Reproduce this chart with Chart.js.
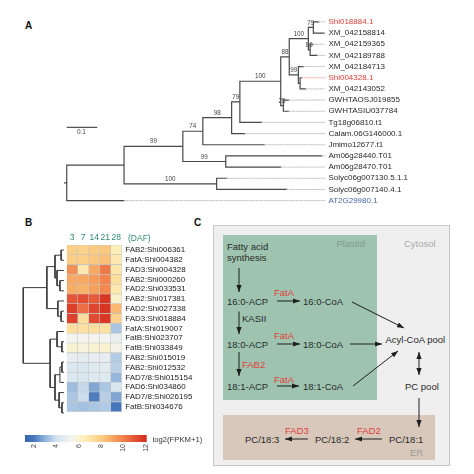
<!DOCTYPE html>
<html>
<head>
<meta charset="utf-8">
<script src="https://cdn.jsdelivr.net/npm/chart.js@4.4.1/dist/chart.umd.min.js"></script>
<style>
  html, body { margin: 0; padding: 0; background: #fff; }
  #fig { position: relative; width: 474px; height: 474px; overflow: hidden;
         font-family: "Liberation Sans", Arial, sans-serif; color: #222; }
  .abs { position: absolute; }
  .t { position: absolute; white-space: nowrap; font-size: 9.5px; line-height: 11px; height: 11px; color: #2a2a2a; }
  .red { color: #e0403a; }
  .panel { position: absolute; font-weight: bold; font-size: 10px; line-height: 12px; color: #111; }
</style>
</head>
<body>
<div id="fig">
  <!-- panel letters -->
  <div class="panel" style="left:25px;top:20px">A</div>
  <div class="panel" style="left:25px;top:217px">B</div>
  <div class="panel" style="left:194px;top:217px">C</div>

  <!-- A: tree -->
  <canvas id="treeCanvas" class="abs" width="474" height="214" style="left:0;top:0"></canvas>

  <!-- B: heatmap, dendrogram, colour bar -->
  <canvas id="dendroCanvas" class="abs" width="46" height="173" style="left:20px;top:245px"></canvas>
  <canvas id="heatCanvas" class="abs" width="150" height="192" style="left:60px;top:228px"></canvas>
  <div class="t" style="left:128px;top:232.5px;font-size:8.5px;color:#2e8b6e">(DAF)</div>
  <canvas id="cbarCanvas" class="abs" width="200" height="32" style="left:20px;top:428px"></canvas>
  <div class="t" style="left:152.5px;top:433.5px;font-size:7.7px;color:#333">log2(FPKM+1)</div>

  <!-- C: pathway diagram -->
  <div class="abs" style="left:213px;top:225px;width:237px;height:241px;background:#efefef;border:1px solid #c8c8c8;box-sizing:border-box"></div>
  <div class="abs" style="left:222.5px;top:235px;width:154px;height:165px;background:#9ec4b0"></div>
  <div class="abs" style="left:223px;top:415px;width:212px;height:45px;background:#d7c8bb"></div>
  <svg class="abs" width="474" height="474" style="left:0;top:0">
    <defs>
      <marker id="ah" viewBox="0 0 8 6" refX="8" refY="3" markerWidth="7" markerHeight="5.2"
              markerUnits="userSpaceOnUse" orient="auto-start-reverse">
        <path d="M0,0 L8,3 L0,6 z" fill="#1e1e1e"/>
      </marker>
    </defs>
    <g stroke="#1e1e1e" stroke-width="1" fill="none">
      <line x1="239" y1="268" x2="239" y2="292" marker-end="url(#ah)"/>
      <line x1="277" y1="301" x2="300" y2="301" marker-end="url(#ah)"/>
      <line x1="352" y1="302" x2="404" y2="328" marker-end="url(#ah)"/>
      <line x1="239" y1="311.5" x2="239" y2="334" marker-end="url(#ah)"/>
      <line x1="277" y1="344" x2="300" y2="344" marker-end="url(#ah)"/>
      <line x1="350" y1="344" x2="382" y2="344" marker-end="url(#ah)"/>
      <line x1="239" y1="352" x2="239" y2="376" marker-end="url(#ah)"/>
      <line x1="277" y1="386" x2="299" y2="386" marker-end="url(#ah)"/>
      <line x1="353" y1="386" x2="398" y2="351" marker-end="url(#ah)"/>
      <line x1="419" y1="352" x2="419" y2="375" marker-start="url(#ah)" marker-end="url(#ah)"/>
      <line x1="419" y1="398" x2="419" y2="427" marker-end="url(#ah)"/>
      <line x1="382" y1="439" x2="355" y2="439" marker-end="url(#ah)"/>
      <line x1="308" y1="439" x2="285" y2="439" marker-end="url(#ah)"/>
    </g>
  </svg>
  <div class="t" style="left:336.5px;top:237.5px;color:#7f9a8c">Plastid</div>
  <div class="t" style="left:404px;top:237.5px;color:#a9a9a9">Cytosol</div>
  <div class="t" style="left:227px;top:240.5px">Fatty acid</div>
  <div class="t" style="left:227px;top:252px">synthesis</div>
  <div class="t" style="left:227px;top:295.5px">16:0-ACP</div>
  <div class="t red" style="left:274px;top:287px">FatA</div>
  <div class="t" style="left:303px;top:295.5px">16:0-CoA</div>
  <div class="t" style="left:242px;top:313px">KASII</div>
  <div class="t" style="left:227px;top:338.5px">18:0-ACP</div>
  <div class="t red" style="left:274px;top:329.5px">FatA</div>
  <div class="t" style="left:303px;top:338.5px">18:0-CoA</div>
  <div class="t" style="left:385.5px;top:334px">Acyl-CoA pool</div>
  <div class="t red" style="left:242px;top:358.5px">FAB2</div>
  <div class="t" style="left:227px;top:380.5px">18:1-ACP</div>
  <div class="t red" style="left:274px;top:373.5px">FatA</div>
  <div class="t" style="left:303px;top:380.5px">18:1-CoA</div>
  <div class="t" style="left:405px;top:380.5px">PC pool</div>
  <div class="t" style="left:389px;top:434px">PC/18:1</div>
  <div class="t red" style="left:357px;top:424.5px">FAD2</div>
  <div class="t" style="left:315px;top:434px">PC/18:2</div>
  <div class="t red" style="left:285px;top:424.5px">FAD3</div>
  <div class="t" style="left:245px;top:434px">PC/18:3</div>
  <div class="t" style="left:410px;top:447px;color:#a09a94">ER</div>
</div>

<script>
// =================================================================================
// DATA
// =================================================================================

// --- Panel A: phylogenetic tree (branch depths in substitutions/site) ---
const treeLeaves = [
  'Shi018884.1', 'XM_042158814', 'XM_042159365', 'XM_042189788', 'XM_042184713',
  'Shi004328.1', 'XM_042143052', 'GWHTAOSJ019855', 'GWHTASIU037784', 'Tg18g06810.t1',
  'Calam.06G146000.1', 'Jmimo12677.t1', 'Am06g28440.T01', 'Am06g28470.T01',
  'Solyc06g007130.5.1.1', 'Solyc06g007140.4.1', 'AT2G29980.1'
];
const treeLeafParents = ['P', 'P', 'O', 'O', 'R', 'Q', 'Q', 'G', 'G', 'V', 'W', 'Z', 'Am', 'Am', 'So', 'So', 'root'];
const treeLeafDepths  = [0.857, 0.875, 0.838, 0.852, 0.805, 0.800, 0.812, 0.755, 0.755, 0.663,
                         0.606, 0.672, 0.867, 0.728, 0.544, 0.748, 0.195];

const treeNodeNames   = ['root', 'X', 'Y', 'So', 'Z', 'Am', 'W', 'V', 'U', 'G', 'T', 'S', 'R', 'P', 'O', 'Q'];
const treeNodeParents = [null, 'root', 'X', 'X', 'Y', 'Y', 'Z', 'W', 'V', 'U', 'U', 'T', 'T', 'S', 'S', 'R'];
const treeNodeDepths  = [0, 0.195, 0.395, 0.510, 0.463, 0.541, 0.561, 0.589, 0.728, 0.737, 0.757, 0.822, 0.788, 0.839, 0.828, 0.794];
const treeNodeSupport = ['', '', '99', '100', '74', '99', '98', '79', '100', '25', '88', '100', '99', '79', '86', ''];

const scaleBarLength = 0.1;

// --- Panel B: expression heatmap, log2(FPKM+1) ---
const heatGenes = [
  'FAB2:Shi006361', 'FatA:Shi004382', 'FAD3:Shi004328', 'FAB2:Shi000260', 'FAD2:Shi033531',
  'FAB2:Shi017381', 'FAD2:Shi027338', 'FAD3:Shi018884', 'FatA:Shi019007', 'FatB:Shi023707',
  'FatB:Shi033849', 'FAB2:Shi015019', 'FAB2:Shi012532', 'FAD7/8:Shi015154', 'FAD6:Shi034860',
  'FAD7/8:Shi026195', 'FatB:Shi034676'
];
const dafLabels = ['3', '7', '14', '21', '28'];
const heatDaf3  = [8.0, 8.0, 9.6, 9.0, 8.9, 11.0, 11.6, 11.5, 7.3, 5.3, 6.0, 4.8, 4.3, 4.3, 3.2, 3.4, 3.4];
const heatDaf7  = [7.9, 8.0, 6.8, 9.0, 8.8, 11.2, 10.4, 7.3, 7.2, 5.3, 5.8, 4.7, 4.3, 4.2, 3.8, 3.9, 3.3];
const heatDaf14 = [8.1, 8.2, 9.0, 9.3, 9.2, 10.9, 11.4, 11.3, 7.3, 5.4, 6.0, 4.8, 4.5, 4.4, 2.8, 2.1, 3.4];
const heatDaf21 = [8.2, 8.4, 10.2, 9.9, 9.8, 11.8, 11.9, 11.8, 7.2, 5.3, 6.0, 4.8, 4.6, 4.5, 3.4, 3.6, 3.5];
const heatDaf28 = [6.6, 6.8, 7.0, 7.3, 6.8, 6.2, 8.6, 7.8, 3.4, 4.9, 5.5, 3.5, 3.6, 3.1, 4.2, 2.8, 1.9];

// row dendrogram, hclust style: negative = row number, positive = earlier merge
const dendroLeft   = [-1, -4, -3, 1, -7, -6, 4, -10, -9, -12, -14, -16, -15, 11, 9, 7];
const dendroRight  = [-2, -5, 2, 3, -8, 5, 6, -11, 8, -13, 10, -17, 12, 13, 14, 15];
const dendroHeight = [0.07, 0.10, 0.17, 0.22, 0.07, 0.15, 0.42, 0.05, 0.17, 0.05, 0.10, 0.05, 0.12, 0.22, 0.34, 1.0];

// colour bar
const cbarRange = [1.2, 12.1];
const cbarTicks = [2, 4, 6, 8, 10, 12];

// =================================================================================
// APP
// =================================================================================
document.addEventListener('DOMContentLoaded', () => {
  const App = (() => {
    // --- config ---
    const config = {
      font: '"Liberation Sans", Arial, sans-serif',
      treeGuideEnd: 0.88,
      branchColor: '#484848',
      guideColor: '#b0b0b0',
      leafRed: '#e0403a',
      leafBlue: '#4a68a8',
      cmapValues: [1.2, 2, 3, 4, 5.3, 6.5, 8, 9, 10, 11, 12.1],
      cmapColors: ['#3567b0', '#4878bc', '#8fb2d9', '#d3e3f0', '#f3f4f0', '#fdf0bb',
                   '#fccf86', '#f8a862', '#f0804b', '#e45637', '#d42b1f']
    };
    Chart.defaults.font.family = config.font;
    Chart.defaults.animation = false;
    Chart.defaults.plugins.legend.display = false;
    Chart.defaults.plugins.tooltip.enabled = false;

    // --- helpers ---
    const hexToRgb = h => [1, 3, 5].map(i => parseInt(h.slice(i, i + 2), 16));
    const valueToColor = v => {
      const vs = config.cmapValues, cs = config.cmapColors;
      if (v <= vs[0]) return cs[0];
      if (v >= vs[vs.length - 1]) return cs[cs.length - 1];
      let k = 0;
      while (v > vs[k + 1]) k++;
      const t = (v - vs[k]) / (vs[k + 1] - vs[k]);
      const a = hexToRgb(cs[k]), b = hexToRgb(cs[k + 1]);
      return `rgb(${a.map((c, i) => Math.round(c + (b[i] - c) * t)).join(',')})`;
    };
    const gap = { x: null, y: null };

    // --- tree geometry ---
    const tree = (() => {
      const nodeY = {};
      const depthOf = n => treeNodeDepths[treeNodeNames.indexOf(n)];
      const childYs = n => {
        const ys = [];
        treeLeafParents.forEach((p, i) => { if (p === n) ys.push(i + 1); });
        treeNodeNames.forEach((m, i) => { if (treeNodeParents[i] === n) ys.push(yOf(m)); });
        return ys;
      };
      const yOf = n => {
        if (nodeY[n] === undefined) {
          const ys = childYs(n);
          nodeY[n] = ys.reduce((a, b) => a + b, 0) / ys.length;
        }
        return nodeY[n];
      };
      const branches = [], guides = [], redGuides = [];
      const seg = (arr, x1, y1, x2, y2) => arr.push({ x: x1, y: y1 }, { x: x2, y: y2 }, gap);
      treeNodeNames.forEach((n, i) => {
        const ys = childYs(n);
        seg(branches, treeNodeDepths[i], Math.min(...ys), treeNodeDepths[i], Math.max(...ys));
        const px = treeNodeParents[i] ? depthOf(treeNodeParents[i]) : treeNodeDepths[i] - 0.007;
        seg(branches, px, yOf(n), treeNodeDepths[i], yOf(n));
      });
      treeLeaves.forEach((name, i) => {
        seg(branches, depthOf(treeLeafParents[i]), i + 1, treeLeafDepths[i], i + 1);
        seg(name === 'Shi004328.1' ? redGuides : guides, treeLeafDepths[i], i + 1, config.treeGuideEnd, i + 1);
      });
      return { branches, guides, redGuides, yOf, depthOf };
    })();

    const leafColor = i => treeLeaves[i].startsWith('Shi') ? config.leafRed
      : (treeLeaves[i].startsWith('AT') ? config.leafBlue : '#2a2a2a');

    const scaleBarY = 10.44;

    const treeTextPlugin = {
      id: 'treeText',
      afterDatasetsDraw(chart) {
        const { ctx, scales: { x, y } } = chart;
        ctx.save();
        ctx.font = `6.3px ${config.font}`;
        ctx.fillStyle = '#444';
        ctx.textAlign = 'center';
        ctx.textBaseline = 'bottom';
        treeNodeNames.forEach((n, i) => {
          if (!treeNodeSupport[i]) return;
          const mid = (tree.depthOf(treeNodeParents[i]) + treeNodeDepths[i]) / 2;
          ctx.fillText(treeNodeSupport[i], x.getPixelForValue(mid), y.getPixelForValue(tree.yOf(n)) - 1.5);
        });
        ctx.font = `6.5px ${config.font}`;
        ctx.textBaseline = 'top';
        ctx.fillText(String(scaleBarLength), x.getPixelForValue(scaleBarLength / 2), y.getPixelForValue(scaleBarY) + 2);
        ctx.restore();
      }
    };

    // --- renderers ---
    const render = {
      tree() {
        const line = (data, color, width, dash) => ({
          data, showLine: true, borderColor: color, borderWidth: width, borderDash: dash || [],
          pointRadius: 0, borderCapStyle: 'square', spanGaps: false
        });
        new Chart(document.getElementById('treeCanvas'), {
          type: 'scatter',
          data: {
            datasets: [
              line(tree.guides, config.guideColor, 0.8, [1, 1.5]),
              line(tree.redGuides, '#e89a95', 0.8, [1, 1.5]),
              line(tree.branches, config.branchColor, 1.2),
              line([{ x: 0.002, y: scaleBarY }, { x: 0.002 + scaleBarLength, y: scaleBarY }], '#555', 1.2)
            ]
          },
          options: {
            responsive: false,
            layout: { padding: { left: 63.8, top: 16.3, right: 0, bottom: 3.2 } },
            scales: {
              x: { type: 'linear', min: -0.01, max: config.treeGuideEnd, display: false },
              y: {
                type: 'linear', position: 'right', reverse: true, min: 0.5, max: 17.5,
                grid: { display: false, drawTicks: false }, border: { display: false },
                afterBuildTicks: s => { s.ticks = treeLeaves.map((_, i) => ({ value: i + 1 })); },
                afterFit: s => { s.width = 148.6; },
                ticks: {
                  autoSkip: false, padding: 3, font: { size: 8 },
                  color: ctx => leafColor(ctx.index),
                  callback: v => treeLeaves[v - 1]
                }
              }
            }
          },
          plugins: [treeTextPlugin]
        });
      },

      dendrogram() {
        const yOfRow = [];
        const segs = [];
        const pos = ref => ref < 0 ? { x: 0, y: -ref } : { x: dendroHeight[ref - 1], y: yOfRow[ref - 1] };
        dendroLeft.forEach((l, i) => {
          const a = pos(l), b = pos(dendroRight[i]), h = dendroHeight[i];
          yOfRow[i] = (a.y + b.y) / 2;
          segs.push({ x: a.x, y: a.y }, { x: h, y: a.y }, { x: h, y: b.y }, { x: b.x, y: b.y }, gap);
        });
        new Chart(document.getElementById('dendroCanvas'), {
          type: 'scatter',
          data: { datasets: [{ data: segs, showLine: true, borderColor: '#3a3a3a', borderWidth: 1, pointRadius: 0 }] },
          options: {
            responsive: false,
            layout: { padding: 0 },
            scales: {
              x: { type: 'linear', reverse: true, min: -0.05, max: 1.08, display: false },
              y: { type: 'linear', reverse: true, min: 0.5, max: 17.5, display: false }
            }
          }
        });
      },

      heatmap() {
        const columns = [heatDaf3, heatDaf7, heatDaf14, heatDaf21, heatDaf28];
        new Chart(document.getElementById('heatCanvas'), {
          type: 'bar',
          data: {
            labels: heatGenes,
            datasets: columns.map((col, j) => ({
              label: dafLabels[j],
              data: col.map(() => 1),
              backgroundColor: col.map(valueToColor),
              borderColor: '#c3c3c3', borderWidth: 0.6, borderSkipped: false,
              barPercentage: 1, categoryPercentage: 1, xAxisID: 'x'
            }))
          },
          options: {
            indexAxis: 'y',
            responsive: false,
            layout: { padding: { left: 6.7, top: 0, right: 0, bottom: 1.7 } },
            scales: {
              x: { stacked: true, min: 0, max: dafLabels.length, display: false },
              xTop: {
                type: 'category', labels: dafLabels, position: 'top', offset: true,
                grid: { display: false, drawTicks: false }, border: { display: false },
                afterFit: s => { s.height = 17; },
                ticks: { color: '#2e8b6e', font: { size: 8.5 }, padding: 2, autoSkip: false, maxRotation: 0 }
              },
              y: {
                stacked: true, position: 'right',
                grid: { display: false, drawTicks: false }, border: { display: false },
                afterFit: s => { s.width = 88.3; },
                ticks: { color: '#222', font: { size: 8 }, padding: 3.5, autoSkip: false }
              }
            }
          }
        });
      },

      colorBar() {
        new Chart(document.getElementById('cbarCanvas'), {
          type: 'bar',
          data: {
            labels: ['log2(FPKM+1)'],
            datasets: [{
              data: [cbarRange],
              barPercentage: 1, categoryPercentage: 1, borderWidth: 0,
              backgroundColor: ctx => {
                const { chart } = ctx;
                if (!chart.chartArea) return null;
                const xs = chart.scales.x;
                const x0 = xs.getPixelForValue(cbarRange[0]), x1 = xs.getPixelForValue(cbarRange[1]);
                const g = chart.ctx.createLinearGradient(x0, 0, x1, 0);
                config.cmapValues.forEach((v, i) => {
                  g.addColorStop((v - cbarRange[0]) / (cbarRange[1] - cbarRange[0]), config.cmapColors[i]);
                });
                return g;
              }
            }]
          },
          options: {
            indexAxis: 'y',
            responsive: false,
            layout: { padding: { left: 5, top: 7, right: 73.3, bottom: 0 } },
            scales: {
              x: {
                type: 'linear', min: cbarRange[0], max: cbarRange[1],
                grid: { display: false, drawTicks: false }, border: { display: false },
                afterBuildTicks: s => { s.ticks = cbarTicks.map(v => ({ value: v })); },
                afterFit: s => { s.height = 18; },
                ticks: { color: '#444', font: { size: 7 }, padding: 2, minRotation: 90, maxRotation: 90, autoSkip: false }
              },
              y: { display: false }
            }
          }
        });
      }
    };

    const init = () => {
      render.tree();
      render.dendrogram();
      render.heatmap();
      render.colorBar();
    };
    return { init };
  })();

  App.init();
});
</script>
</body>
</html>
